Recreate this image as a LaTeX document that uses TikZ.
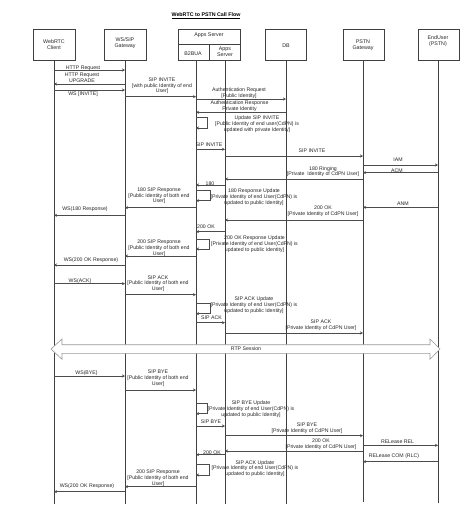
\documentclass[tikz,border=0pt]{standalone}
\usepackage{fontspec}
\setmainfont{Liberation Sans}
\usetikzlibrary{arrows.meta}
\begin{document}
\begin{tikzpicture}[x=1pt,y=-1pt,
  box/.style={draw=black!75,line width=0.6pt,fill=white},
  boxtxt/.style={font=\fontsize{5.3}{6}\selectfont,text=black!85,align=center,inner sep=0pt},
  life/.style={draw=black!75,line width=0.7pt},
  msg/.style={draw=black!70,line width=0.5pt,-{Stealth[length=3pt,width=3pt]}},
  lbl/.style={font=\fontsize{5.2}{5.8}\selectfont,text=black!85,align=center,inner sep=0pt}]
\useasboundingbox (0,0) rectangle (474,515);
\fill[white] (0,0) rectangle (474,515);
% title
\node[font=\bfseries\fontsize{5.3}{6}\selectfont,inner sep=0pt] (title) at (206,16) {\underline{WebRTC to PSTN Call Flow}};
% lifeline anchors
\coordinate (A) at (54,60);
\coordinate (G) at (125,60);
\coordinate (B) at (196,60);
\coordinate (S) at (225,60);
\coordinate (D) at (286,60);
\coordinate (P) at (363,60);
\coordinate (E) at (438,60);
\coordinate (Aend) at (54,504);
\coordinate (Gend) at (125,504);
\coordinate (Bend) at (196,504);
\coordinate (Send) at (225,504);
\coordinate (Dend) at (286,504);
\coordinate (Pend) at (363,502);
\coordinate (Eend) at (438,503);
\foreach \n in {A,G,B,S,D,P,E}{\draw[life] (\n) -- (\n end);}
% boxes
\draw[box] (33,29) rectangle (75,60);
\node[boxtxt] (tA) at (54,45) {WebRTC\\Client};
\draw[box] (104,29) rectangle (146,60);
\node[boxtxt] (tG) at (125,43) {WS/SIP\\Gateway};
\draw[box] (178,29) rectangle (240,60);
\draw[black!75,line width=0.6pt] (178,44) -- (240,44) (209,44) -- (209,60);
\node[boxtxt] (tS0) at (209,35.5) {Apps Server};
\node[boxtxt] (tB) at (193,53.3) {B2BUA};
\node[boxtxt] (tS) at (225,52) {Apps\\Server};
\draw[box] (265,29) rectangle (306,60);
\node[boxtxt] (tD) at (286,46) {DB};
\draw[box] (343,29) rectangle (384,60);
\node[boxtxt] (tP) at (363,45.2) {PSTN\\Gateway};
\draw[box] (418,29) rectangle (459,60);
\node[boxtxt] (tE) at (438,41) {EndUser\\(PSTN)};
% macros
\newcommand\msgline[3]{\draw[msg] (#1 |- 0,#3) -- (#2 |- 0,#3);}
\newcommand\selfloop[4]{\draw[msg] (#1 |- 0,#2) -- ++(#4,0) |- (#1 |- 0,#3);}
% messages
\msgline{A}{G}{70}
\node[lbl] at (83,68.5) {HTTP Request};
\msgline{G}{A}{84}
\node[lbl] at (82,77.9) {HTTP Request\\UPGRADE};
\msgline{A}{G}{90}
\node[lbl] at (83,93.7) {WS [INVITE]};
\msgline{G}{B}{96.7}
\node[lbl] at (162,85.8) {SIP INVITE\\{}[with public Identity of end\\User]};
\msgline{B}{D}{99}
\node[lbl] at (239,93.5) {Authentication Request\\{}[Public Identity]};
\msgline{D}{B}{112.3}
\node[lbl] at (239.5,106.5) {Authentication Response\\Private Identity};
\selfloop{B}{117}{128}{11}
\node[lbl] at (257,124.1) {Update SIP INVITE\\{}[Public Identity of end user(CdPN) is\\updated with private Identity]};
\msgline{B}{S}{149.3}
\node[lbl] at (209,144.7) {SIP INVITE};
\msgline{S}{P}{156}
\node[lbl] at (312,151) {SIP INVITE};
\msgline{P}{E}{165}
\node[lbl] at (398,159.3) {IAM};
\msgline{E}{P}{172.7}
\node[lbl] at (397,170.3) {ACM};
\msgline{P}{S}{179}
\node[lbl] at (323,171.7) {180 Ringing\\{}[Private\ \ Identity of CdPN User]};
\msgline{S}{B}{185}
\node[lbl] at (210,183.7) {180};
\selfloop{B}{190.7}{200.7}{14}
\node[lbl] at (254,197.1) {180 Response Update\\{}[Private Identity of end User(CdPN) is\\updated to public Identity]};
\msgline{B}{G}{207.7}
\node[lbl] at (159,195.9) {180 SIP Response\\{}[Public Identity of both end\\User]};
\msgline{G}{A}{215.3}
\node[lbl] at (85,209) {WS(180 Response)};
\msgline{E}{P}{207.3}
\node[lbl] at (403,204) {ANM};
\msgline{P}{S}{220}
\node[lbl] at (323,211.5) {200 OK\\{}[Private Identity of CdPN User]};
\msgline{S}{B}{231.7}
\node[lbl] at (206,226.7) {200 OK};
\selfloop{B}{239.3}{249}{13}
\node[lbl] at (254.5,244.1) {200 OK Response Update\\{}[Private Identity of end User(CdPN) is\\updated to public Identity]};
\msgline{B}{G}{256}
\node[lbl] at (159,248.2) {200 SIP Response\\{}[Public Identity of both end\\User]};
\msgline{G}{A}{265}
\node[lbl] at (91,260.3) {WS(200 OK Response)};
\msgline{A}{G}{283.7}
\node[lbl] at (80,280.7) {WS(ACK)};
\msgline{G}{B}{294.7}
\node[lbl] at (158,283.7) {SIP ACK\\{}[Public Identity of both end\\User]};
\selfloop{B}{303.3}{313.7}{14}
\node[lbl] at (254,305.1) {SIP ACK Update\\{}[Private Identity of end User(CdPN) is\\updated to public Identity]};
\msgline{B}{S}{322.7}
\node[lbl] at (211.5,318) {SIP ACK};
\msgline{S}{P}{333}
\node[lbl] at (321,324.9) {SIP ACK\\{}[Private Identity of CdPN User]};
% RTP session
\draw[black!40,line width=0.6pt,fill=white] (51,349) -- (62,339) -- (62,344.7) -- (430,344.7) -- (430,339) -- (440,349) -- (430,359.3) -- (430,353.3) -- (62,353.3) -- (62,359.3) -- cycle;
\node[lbl] (rtp) at (246,349) {RTP Session};
% teardown
\msgline{A}{G}{376}
\node[lbl] at (86.5,372.7) {WS(BYE)};
\msgline{G}{B}{390}
\node[lbl] at (158,378.2) {SIP BYE\\{}[Public Identity of both end\\User]};
\selfloop{B}{403.3}{413.7}{11.5}
\node[lbl] at (251,409) {SIP BYE Update\\{}[Private Identity of end User(CdPN) is\\updated to public Identity]};
\msgline{B}{S}{426}
\node[lbl] at (211,422) {SIP BYE};
\msgline{S}{P}{435.7}
\node[lbl] at (307,427.9) {SIP BYE\\{}[Private Identity of CdPN User]};
\msgline{P}{E}{445.3}
\node[lbl] at (397.5,441.7) {RELease REL};
\msgline{P}{S}{451}
\node[lbl] at (321,444.5) {200 OK\\{}[Private Identity of CdPN User]};
\msgline{S}{B}{454.7}
\node[lbl] at (212,453) {200 OK};
\msgline{E}{P}{461.7}
\node[lbl] at (394,455.7) {RELease COM (RLC)};
\selfloop{B}{464.7}{475}{13}
\node[lbl] at (255,468.5) {SIP ACK Update\\{}[Private Identity of end User(CdPN) is\\updated to public Identity]};
\msgline{B}{G}{486.7}
\node[lbl] at (158,478.3) {200 SIP Response\\{}[Public Identity of both end\\User]};
\msgline{G}{A}{491.7}
\node[lbl] at (87,486) {WS(200 OK Response)};
\end{tikzpicture}
\end{document}
